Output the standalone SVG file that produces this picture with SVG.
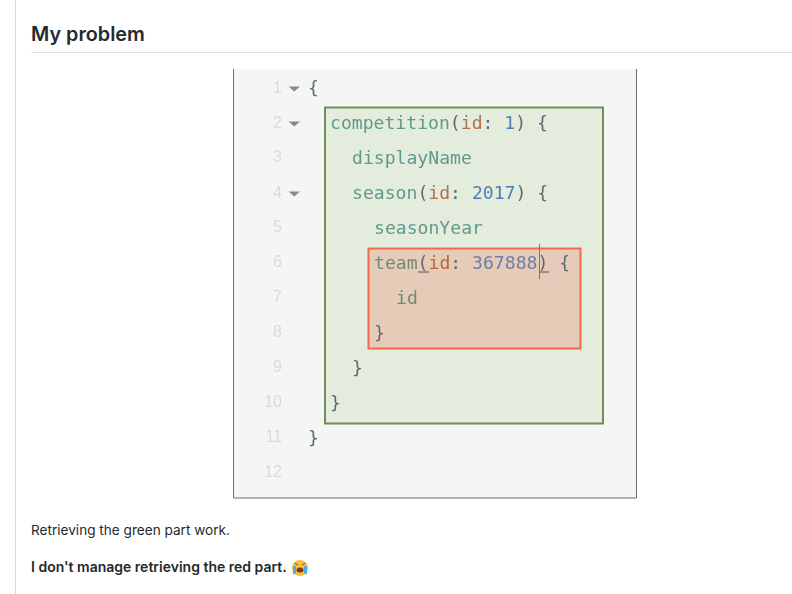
<svg xmlns="http://www.w3.org/2000/svg" width="792" height="594" viewBox="0 0 792 594">
<defs><filter id="soft" x="-5%" y="-5%" width="110%" height="110%"><feGaussianBlur stdDeviation="0.45"/></filter></defs>
<style>
.ui{font-family:"Inter","Liberation Sans",sans-serif;fill:#24292e}
.c{font-family:"DejaVu Sans Mono","Liberation Mono",monospace;font-size:18.1px;fill:#5f6b70}
.f{fill:#5f9a8c}.a{fill:#b5713f}.n{fill:#4a7fb5}
.ln{font-family:"Liberation Sans",sans-serif;font-size:16px;fill:#d8dbdc;text-anchor:end}
.tri{fill:#8a8a8a}
</style>
<rect width="792" height="594" fill="#fff"/>
<rect x="15" y="0" width="1" height="594" fill="#d3d7e0"/>
<text class="ui" x="31" y="41" font-size="19.800" font-weight="600">My problem</text>
<rect x="31" y="52" width="761" height="1" fill="#dcdfe5"/>
<g id="editor">
<rect x="233.500" y="69" width="403" height="429" fill="#f4f6f5"/>
<path d="M233.500 69V498H636.500V69" fill="none" stroke="#6f6f6f" stroke-width="1"/>
<rect x="325" y="107.500" width="278" height="316" fill="#e4ecde" stroke="#6f8f58" stroke-width="2"/>
<rect x="368.500" y="248.500" width="212" height="100" fill="#e6cbb9" stroke="#f2694e" stroke-width="2"/>
<g filter="url(#soft)">
<g class="ln">
<text x="282" y="93">1</text><text x="282" y="128">2</text><text x="282" y="162">3</text><text x="282" y="198">4</text><text x="282" y="232">5</text><text x="282" y="267">6</text><text x="282" y="302">7</text><text x="282" y="337">8</text><text x="282" y="372">9</text><text x="282" y="407">10</text><text x="282" y="442">11</text><text x="282" y="477">12</text>
</g>
<path class="tri" d="M288.500 86.500h11.500l-5.750 5zM288.500 121.500h11.500l-5.750 5zM288.500 191.500h11.500l-5.750 5z"/>
<text class="c" x="308" y="94">{</text>
<text class="c" x="330" y="129"><tspan class="f">competition</tspan>(<tspan class="a">id</tspan>: <tspan class="n">1</tspan>) {</text>
<text class="c f" x="352" y="164">displayName</text>
<text class="c" x="352" y="199"><tspan class="f">season</tspan>(<tspan class="a">id</tspan>: <tspan class="n">2017</tspan>) {</text>
<text class="c f" x="374" y="234">seasonYear</text>
<text class="c" x="374" y="269"><tspan fill="#6f8a78">team</tspan>(<tspan fill="#b8693a">id</tspan>: <tspan fill="#6b7fa8">367888</tspan>) {</text>
<text class="c" x="396" y="304" style="fill:#6f8a78">id</text>
<text class="c" x="374" y="339">}</text>
<text class="c" x="352" y="374">}</text>
<text class="c" x="330" y="409">}</text>
<text class="c" x="308" y="444">}</text>
<path d="M418 272h11M539 272h10" stroke="#555" stroke-width="1" fill="none"/>
<path d="M539.500 244V279" stroke="#777" stroke-width="1" fill="none"/>
</g>
</g>
<text class="ui" x="31" y="535" font-size="13.600">Retrieving the green part work.</text>
<text class="ui" x="31" y="572" font-size="14" font-weight="600">I don't manage retrieving the red part.</text>
<g id="emoji">
<circle cx="300" cy="568" r="8" fill="#fbc13d"/>
<path d="M295 563.500l3 1.500M305 563.500l-3 1.500" stroke="#7a4a20" stroke-width="1" fill="none"/>
<path d="M296 566h-3v8.500l3 -1zM304 566h3v8.500l-3 -1z" fill="#53a9e8"/>
<ellipse cx="300" cy="570" rx="3.500" ry="2.500" fill="#7a3a20"/>
</g>
</svg>
